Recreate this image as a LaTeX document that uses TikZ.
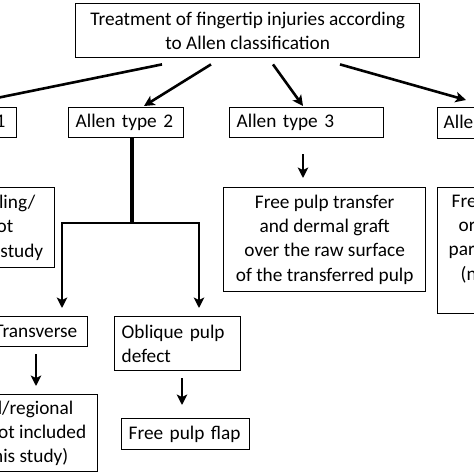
\documentclass[tikz,border=0pt]{standalone}
\usepackage{fontspec}
\setmainfont{Carlito}
\usetikzlibrary{arrows.meta}
\newcommand\mygap[1]{\hbox to #1{\hss}}
\begin{document}
\begin{tikzpicture}[x=1pt,y=-1pt,
  box/.style={draw, line width=1.4pt, inner ysep=0pt, inner xsep=7pt,
    font=\fontsize{19.3}{24.3}\selectfont},
  arr/.style={line width=2.6pt, line join=miter,
    -{Stealth[length=10.5pt,width=10.5pt,inset=2.5pt]}},
  stem/.style={line width=3.6pt},
  bar/.style={line width=2.8pt}]
\useasboundingbox (0,0) rectangle (474,474);
\clip (0,0) rectangle (474,474);
\fill[white] (0,0) rectangle (474,474);

% nodes
\node[box, anchor=north west, minimum width=344pt, minimum height=54pt, align=center] (top) at (75,3)
  {Treatment of fingertip injuries according\\to Allen classification};
\node[box, anchor=north east, minimum height=30pt, align=right] (t1) at (17,107) {Allen type 1\mygap{4pt}};
\node[box, anchor=north west, minimum height=30pt, text width=101pt, align=left] (t2) at (68,107) {Allen type 2};
\node[box, anchor=north west, minimum height=30pt, text width=140pt, align=left] (t3) at (229,107) {Allen type 3};
\node[box, anchor=north west, minimum height=31pt, inner xsep=6pt, align=left] (t4) at (437,107) {Allen type 4};

\node[box, anchor=north east, minimum height=80pt, align=right] (t1c) at (55,187)
  {Secondary healing/\mygap{12pt}\\dressing/ not\mygap{34pt}\\included in this study\mygap{4pt}};
\node[box, anchor=north west, minimum width=202pt, minimum height=104pt, align=center] (t3c) at (223,187)
  {Free pulp transfer\\and dermal graft\\over the raw surface\\of the transferred pulp};
\node[box, anchor=north west, minimum height=126pt, align=left] (t4c) at (437,187)
  {\mygap{7pt}Free pulp transfer\\\mygap{14pt}or replantation/\\\mygap{4pt}partial toe transfer\\\mygap{16pt}(not included in this\\\mygap{60pt}study)};

\node[box, anchor=north east, minimum height=30pt, align=right] (tr) at (88,316) {Transverse\mygap{3pt}};
\node[box, anchor=north west, minimum height=54pt, text width=112pt, align=left] (ob) at (114,316) {Oblique pulp\\defect};
\node[box, anchor=north east, minimum height=77pt, align=right] (lc) at (98,394)
  {Local/regional\mygap{17pt}\\flap (not included\mygap{4pt}\\in this study)\mygap{22pt}};
\node[box, anchor=north west, minimum height=31pt, text width=114pt, align=left] (ff) at (121,418) {Free pulp flap};

% junction coordinates
\coordinate (j) at (132,223);
\coordinate (bl) at (62,223);
\coordinate (br) at (199,223);

% connectors
\draw[arr] ([shift={(87,6)}]top.south west) -- ([shift={(-35,-6)}]t1.north east);
\draw[arr] ([shift={(136,6)}]top.south west) -- ([shift={(76,-1)}]t2.north west);
\draw[arr] ([shift={(198,6)}]top.south west) -- ([shift={(74,-1)}]t3.north west);
\draw[arr] ([shift={(265,6)}]top.south west) -- ([shift={(29,-7)}]t4.north west);

\draw[stem] ([shift={(64,0)}]t2.south west) -- (j);
\draw[bar] (bl) -- (br);
\draw[arr] (j) -- (bl) -- ([shift={(-26,-8)}]tr.north east);
\draw[arr] (j) -- (br) -- ([shift={(85,-8)}]ob.north west);

\draw[arr] ([shift={(74,16)}]t3.south west) -- ([shift={(80,-9)}]t3c.north west);
\draw[arr] ([shift={(-52,7)}]tr.south east) -- ([shift={(-62,-8)}]lc.north east);
\draw[arr] ([shift={(68,7)}]ob.south west) -- ([shift={(61,-13)}]ff.north west);
\end{tikzpicture}
\end{document}
